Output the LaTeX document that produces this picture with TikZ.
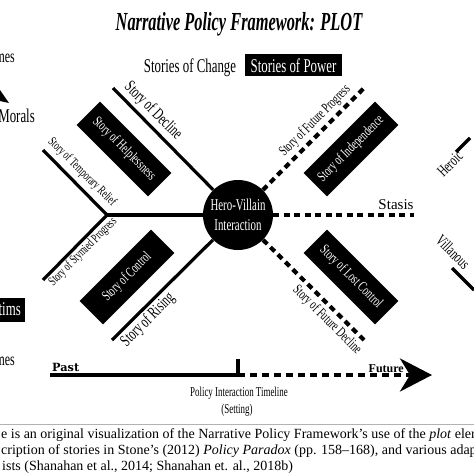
\documentclass[tikz,border=0pt]{standalone}
\usepackage{fontspec}
\setmainfont{Liberation Serif}
\newfontfamily\npfcond[FakeStretch=0.66]{Liberation Serif}
\newfontfamily\npftitle[FakeStretch=0.63]{Liberation Serif}
\newfontfamily\npfslab{DejaVu Serif}
\usetikzlibrary{arrows.meta}
\newcommand{\fsz}[1]{\fontsize{#1}{#1}\selectfont}

\begin{document}
\begin{tikzpicture}[x=1pt,y=-1pt,every node/.style={inner sep=0pt},
  plotline/.style={line width=3.2pt},
  futureline/.style={line width=4.2pt,dash pattern=on 6pt off 4.5pt},
  storybox/.style={fill=black,text=white,minimum width=101pt,minimum height=33pt,font=\npfcond\fsz{14.5}},
  branchlabel/.style={font=\npfcond\fsz{17}},
  twiglabel/.style={font=\npfcond\fsz{13}},
  futurelabel/.style={font=\npfcond\fsz{14.5}}]
\useasboundingbox (0,0) rectangle (474,474);
\clip (0,0) rectangle (474,474);
\fill[white] (0,0) rectangle (474,474);

\node[anchor=base,font=\npftitle\bfseries\itshape\fsz{26}] (title) at (239,30) {Narrative Policy Framework: PLOT};
\node[anchor=base,font=\npfcond\fsz{19.5}] (change) at (190,72) {Stories of Change};
\node[anchor=base,fill=black,text=white,text height=18pt,text depth=4pt,inner xsep=5.5pt,font=\npfcond\fsz{19.5}] (power) at (293.5,72) {Stories of Power};

% cut off at the left edge
\node[anchor=base east,font=\npfcond\fsz{18}] (outtop) at (15,62) {mes};
\node[anchor=base east,font=\npfcond\fsz{19.5}] (morals) at (35,122) {Morals};
\fill (0,90) -- (9,103) -- (0,101) -- cycle;
\node[anchor=base east,fill=black,text=white,text height=17pt,text depth=7pt,inner xsep=4pt,font=\npfcond\fsz{19.5}] (victims) at (25,315) {tims};
\node[anchor=base east,font=\npfcond\fsz{18}] (outbot) at (15,365) {mes};

\node[circle,fill=black,text=white,minimum size=70pt,align=center,font=\npfcond\fontsize{16.5}{20}\selectfont] (hv) at (238,215) {Hero-Villain\\Interaction};

\coordinate (decend) at (113,88);
\coordinate (riseend) at (112,340);
\coordinate (br) at (107,215);
\coordinate (reliefend) at (43,150);
\coordinate (stymend) at (43,280);
\coordinate (progend) at (364,88);
\coordinate (fdecend) at (364,340);
\coordinate (stasisend) at (414,215);

\draw[plotline] (decend) -- (hv);
\draw[plotline] (riseend) -- (hv);
\draw[plotline] (br) -- (hv);
\draw[plotline] (reliefend) -- (br);
\draw[plotline] (stymend) -- (br);
\draw[futureline] (hv) -- (progend);
\draw[futureline] (hv) -- (fdecend);
\draw[futureline] (hv) -- (stasisend);

\node[branchlabel,rotate=-45] (ldecline) at (153,111) {Story of Decline};
\node[branchlabel,rotate=45] (lrising) at (148,320) {Story of Rising};
\node[twiglabel,rotate=-45] (lrelief) at (82,172) {Story of Temporary Relief};
\node[twiglabel,rotate=45] (lstymied) at (83,252) {Story of Stymied Progress};
\node[futurelabel,rotate=45] (lprogress) at (315,121) {Story of Future Progress};
\node[futurelabel,rotate=-45] (lfdecline) at (327,320) {Story of Future Decline};
\node[anchor=base,font=\fsz{15}] (stasis) at (396,209) {Stasis};

\node[storybox,rotate=-45] (helpless) at (124,149) {Story of Helplessness};
\node[storybox,rotate=45] (control) at (127,277) {Story of Control};
\node[storybox,rotate=45] (indep) at (351,149) {Story of Independence};
\node[storybox,rotate=-45] (lost) at (351,277) {Story of Lost Control};

% cut off at the right edge
\node[rotate=45,font=\npfcond\fsz{16}] (heroic) at (450,164) {Heroic};
\coordinate (hbara) at (456,152);
\coordinate (hbarb) at (470,138);
\draw[plotline] (hbara) -- (hbarb);
\node[rotate=-45,font=\npfcond\fsz{16}] (villain) at (453,252) {Villanous};
\coordinate (vbara) at (452,268);
\coordinate (vbarb) at (474,290);
\draw[plotline] (vbara) -- (vbarb);

% timeline
\coordinate (tlpast) at (50,375);
\coordinate (tlnow) at (238,375);
\coordinate (tlfuture) at (432,375);
\coordinate (ticktop) at (238,359);
\coordinate (tickbot) at (238,377);
\draw[line width=3.5pt] (tlpast) -- (tlnow);
\draw[line width=4pt] (ticktop) -- (tickbot);
\draw[line width=4pt,dash pattern=on 7pt off 5pt,-{Stealth[length=32pt,width=33pt,inset=10pt]}] (tlnow) -- (tlfuture);
\node[anchor=base west,font=\npfslab\bfseries\fsz{11.3}] (past) at (52,371) {Past};
\node[anchor=base east,font=\bfseries\fsz{12}] (future) at (404,372) {Future};
\node[anchor=base,font=\npfcond\fsz{13.5}] (timeline) at (239,396) {Policy Interaction Timeline};
\node[anchor=base,font=\npfcond\fsz{13.5}] (setting) at (237,413) {(Setting)};

% caption
\coordinate (capl) at (0,424);
\coordinate (capr) at (474,424);
\draw[gray!60,line width=0.8pt] (capl) -- (capr);
\node[anchor=base west,font=\fsz{14}] (cap1) at (1,438) {e is an original visualization of the Narrative Policy Framework's use of the \emph{plot} elem};
\node[anchor=base west,font=\fsz{14}] (cap2) at (1,454) {cription of stories in Stone's (2012) \emph{Policy Paradox} (pp. 158--168), and various adap};
\node[anchor=base west,font=\fsz{14}] (cap3) at (2,470) {ists (Shanahan et al., 2014; Shanahan et. al., 2018b)};
\end{tikzpicture}
\end{document}
